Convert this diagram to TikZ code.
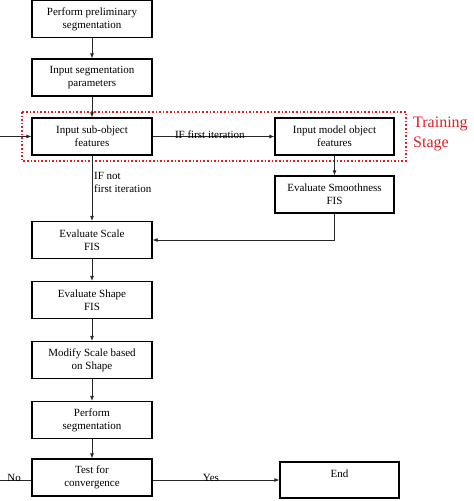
\documentclass[tikz,border=0pt]{standalone}
\usepackage{fontspec}
\setmainfont{Liberation Serif}
\usetikzlibrary{arrows.meta,calc}
\definecolor{trainred}{RGB}{225,30,40}
\begin{document}
\begin{tikzpicture}[x=1pt,y=-1pt,
  box/.style={draw=black,line width=1.3pt,fill=white,minimum width=120pt,minimum height=37pt,
    align=center,inner sep=1pt,font=\fontsize{11}{13}\selectfont},
  arr/.style={draw=black!85,line width=0.8pt,-{Latex[length=5pt,width=4pt]}},
  ln/.style={draw=black!85,line width=0.8pt},
  lbl/.style={font=\fontsize{11}{13}\selectfont,inner sep=0pt}]
\useasboundingbox (0,0) rectangle (474,501);
% training stage region
\draw[trainred,dotted,line width=1.6pt] (22,112) rectangle (406,161);
\node[trainred,anchor=north west,align=left,inner sep=0pt,font=\fontsize{16}{20}\selectfont] (train) at (413,117) {Training\\Stage};
% boxes
\node[box] (b1) at (92,19) {Perform preliminary\\segmentation};
\node[box] (b2) at (92,77.5) {Input segmentation\\parameters};
\node[box] (b3) at (92,136.5) {Input sub-object\\features};
\node[box,minimum width=119pt] (b4) at (334.5,136.5) {Input model object\\features};
\node[box,minimum width=119pt] (b5) at (334.5,194.5) {Evaluate Smoothness\\FIS};
\node[box] (b6) at (92,240) {Evaluate Scale\\FIS};
\node[box] (b7) at (92,300) {Evaluate Shape\\FIS};
\node[box] (b8) at (92,360) {Modify Scale based\\on Shape};
\node[box] (b9) at (92,420) {Perform\\segmentation};
\node[box] (b10) at (92,477.5) {Test for\\convergence};
\node[box,minimum width=119pt,minimum height=36pt] (end) at (339.5,480) {End\\\mbox{}};
% connectors
\draw[arr] (b1) -- (b2);
\draw[arr] (b2) -- (b3);
\draw[arr] (b3) -- node[lbl,anchor=base,pos=0.47,yshift=-1.5pt] (l1) {IF first iteration} (b4);
\draw[arr] (b3) -- (b6);
\node[lbl,anchor=north west,align=left] (l2) at (94,172) {IF not\\first iteration};
\draw[arr] (b4) -- (b5);
\draw[arr] (b5.south) |- (b6.east);
\draw[arr] (b6) -- (b7);
\draw[arr] (b7) -- (b8);
\draw[arr] (b8) -- (b9);
\draw[arr] (b9) -- (b10);
\draw[arr] (b10.east |- end.west) -- node[lbl,anchor=base,yshift=-1.5pt,pos=0.46] (lyes) {Yes} (end.west);
\coordinate (noend) at (0,480);
\draw[ln] (b10.west |- noend) -- node[lbl,anchor=base,yshift=-1.5pt,pos=0.55] (lno) {No} (noend);
\coordinate (loopin) at (0,136.5);
\draw[arr] (loopin) -- (b3.west);
\end{tikzpicture}
\end{document}
